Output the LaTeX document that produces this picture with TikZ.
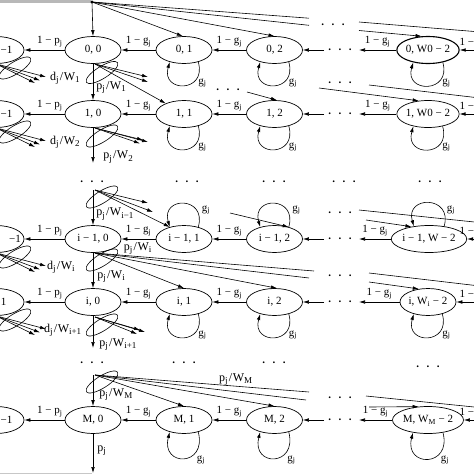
\documentclass[tikz,border=0pt]{standalone}
\usepackage{fontspec}
\setmainfont{Liberation Serif}
\usetikzlibrary{arrows.meta,shapes.geometric}
\newcommand{\mysubj}{\textsubscript{j}}
\newcommand{\mysub}[1]{\raisebox{-0.4ex}{\fontsize{9}{10}\selectfont #1}}
\newcommand{\myfrac}[2]{p\mysub{#1}\kern1.2pt/\kern0.6pt W\mysub{#2}}
\begin{document}
\begin{tikzpicture}[x=1pt,y=-1pt,
  every node/.style={font=\fontsize{11}{13}\selectfont},
  st/.style={ellipse,draw,line width=0.7pt,minimum width=56pt,minimum height=27pt,inner sep=0pt},
  arr/.style={line width=0.6pt,-{Latex[length=6pt,width=3.6pt]}},
  ln/.style={line width=0.6pt},
  lbl/.style={inner sep=0pt},
  flbl/.style={inner sep=0pt,font=\fontsize{12}{14}\selectfont},
  bundle/.style={ellipse,draw,line width=0.6pt,minimum width=37pt,minimum height=12pt,inner sep=0pt,rotate=32},
  dotsn/.style={inner sep=0pt,font=\fontsize{11}{13}\selectfont\bfseries},
]
\useasboundingbox (0,0) rectangle (474,474);
\clip (0,0) rectangle (474,474);

% ---------- states ----------
\node[st] (a0) at (93,50) {0, 0};
\node[st] (a1) at (184,50) {0, 1};
\node[st] (a2) at (274.5,50) {0, 2};
\node[st,line width=1.1pt] (aW) at (428,50) {0, W0 − 2};
\node[st] (aL) at (-4,50) {};
\node[lbl,anchor=east] (aLt) at (12.5,50) {−1};

\node[st] (b0) at (93,114) {1, 0};
\node[st] (b1) at (184,114) {1, 1};
\node[st] (b2) at (274.5,114) {1, 2};
\node[st] (bW) at (428,114) {1, W0 − 2};
\node[st] (bL) at (-4,114) {};
\node[lbl,anchor=east] (bLt) at (12.5,114) {−1};

\node[st] (c0) at (93,239) {i − 1, 0};
\node[st] (c1) at (184,239) {i − 1, 1};
\node[st] (c2) at (274.5,239) {i − 1, 2};
\node[st] (cW) at (429,239) {i − 1, W − 2};
\node[st] (cL) at (-4,239) {};
\node[lbl,anchor=east] (cLt) at (21,239) {−1};

\node[st] (d0) at (93,302) {i, 0};
\node[st] (d1) at (184,302) {i, 1};
\node[st] (d2) at (274.5,302) {i, 2};
\node[st] (dW) at (428,302) {i, W\textsubscript{i} − 2};
\node[st] (dL) at (-4,302) {};
\node[lbl,anchor=east] (dLt) at (6.5,302) {1};

\node[st] (e0) at (93,420) {M, 0};
\node[st] (e1) at (184,420) {M, 1};
\node[st] (e2) at (274.5,420) {M, 2};
\node[st] (eW) at (428,420) {M, W\textsubscript{M} − 2};
\node[st] (eL) at (-4,420) {};
\node[lbl,anchor=east] (eLt) at (12.5,420) {−1};

% ---------- horizontal transitions ----------
\foreach \p/\y in {a/50,b/114,c/239,d/302,e/420}{
  \draw[arr] (\p0.west) -- node[lbl,pos=0.37,yshift=8pt] (\p lp) {1 − p\mysubj} (\p L.east);
  \draw[arr] (\p1.west) -- node[lbl,midway,yshift=8pt] (\p lg1) {1 − g\mysubj} (\p0.east);
  \draw[arr] (\p2.west) -- node[lbl,midway,yshift=8pt] (\p lg2) {1 − g\mysubj} (\p1.east);
  \coordinate (\p ga) at (324,\y);
  \draw[arr] (\p ga) -- (\p2.east);
  \node[dotsn] (\p gd) at (340,\y) {.\hspace{7.5pt}.\hspace{7.5pt}.};
  \coordinate (\p gb) at (359,\y);
  \draw[arr] (\p W.west) -- node[lbl,midway,yshift=8pt] (\p lgW) {1 − g\mysubj} (\p gb);
  \coordinate (\p R) at (484,\y);
  \draw[arr] (\p R) -- (\p W.east);
  \node[lbl,anchor=west] (\p Rl) at (459.3,\y-8) {1 −};
}

% ---------- self loops ----------
\foreach \p in {a,b,d}{
  \foreach \c in {1,2,W}{
    \draw[arr] (\p\c.-40) .. controls +(9,31) and +(-9,31) .. (\p\c.-140);
    \node[lbl] (\p\c g) at ([shift={(18.5,33)}]\p\c.center) {g\mysubj};
  }
}
\foreach \c in {1,2,W}{
  \draw[arr] (e\c.-40) .. controls +(9,35) and +(-9,35) .. (e\c.-140);
  \node[lbl] (e\c g) at ([shift={(17,40)}]e\c.center) {g\mysubj};
}
\foreach \c in {1,2,W}{
  \draw[arr] (c\c.40) .. controls +(9,-31) and +(-9,-31) .. (c\c.140);
  \node[lbl] (c\c g) at ([shift={(22,-29)}]c\c.center) {g\mysubj};
}

% ---------- row 0 entry (top) ----------
\fill[black!28] (0,-2) rectangle (91,2.6);
\coordinate (s0) at (92,2);
\fill (s0) circle (1.6);
\draw[arr] (s0) -- (a0.north);
\draw[arr] (s0) -- (a1.95);
\draw[arr] (s0) -- (a2.north);
\coordinate (a0A) at (309,18.2);
\coordinate (a0B) at (309,25.3);
\draw[ln] (s0) -- (a0A);
\draw[ln] (s0) -- (a0B);
\node[dotsn] (a0d) at (333,25) {.\hspace{7.5pt}.\hspace{7.5pt}.};
\coordinate (a0Ar) at (359,22);
\coordinate (a0Ae) at (484,32.3);
\draw[ln] (a0Ar) -- (a0Ae);
\coordinate (a0Br) at (359,30.5);
\draw[arr] (a0Br) -- (aW.115);

% ---------- row 0 -> row 1 ----------
\node[bundle] (ua) at (102,72.5) {};
\draw[arr] (a0.south) -- node[flbl,anchor=west,pos=0.66,xshift=3pt] (lpa) {\myfrac{j}{1}} (b0.north);
\coordinate (s1) at (95,64);
\coordinate (t1a) at (148,77);
\coordinate (t1b) at (148,82);
\draw[arr] (s1) -- (t1a);
\draw[arr] (s1) -- (t1b);
\draw[arr] (s1) -- (b1.150);
\node[dotsn] (b0d) at (228,90) {.\hspace{7.5pt}.\hspace{7.5pt}.};
\coordinate (b0Cs) at (247,92);
\draw[arr] (b0Cs) -- (b2.80);
\node[dotsn] (b0d2) at (340,83) {.\hspace{7.5pt}.\hspace{7.5pt}.};
\coordinate (b0Bs) at (319,88);
\draw[arr] (b0Bs) -- (bW.125);
\coordinate (b0As) at (369,85);
\coordinate (b0Ae) at (484,98.5);
\draw[ln] (b0As) -- (b0Ae);

% ---------- row 1 -> next ----------
\node[bundle] (ub) at (102,136) {};
\coordinate (v2) at (93,163);
\draw[arr] (b0.south) -- node[flbl,anchor=west,pos=0.83,xshift=10pt] (lpb) {\myfrac{j}{2}} (v2);
\coordinate (s2) at (95,128);
\coordinate (t2a) at (143,140);
\coordinate (t2b) at (148,142);
\coordinate (t2c) at (140,143.5);
\draw[arr] (s2) -- (t2a);
\draw[arr] (s2) -- (t2b);
\draw[arr] (s2) -- (t2c);

% ---------- dots between rows ----------
\node[dotsn] (m1) at (92,182) {.\hspace{7.5pt}.\hspace{7.5pt}.};
\node[dotsn] (m2) at (187,182) {.\hspace{7.5pt}.\hspace{7.5pt}.};
\node[dotsn] (m3) at (274,182) {.\hspace{7.5pt}.\hspace{7.5pt}.};
\node[dotsn] (m4) at (344,182) {.\hspace{7.5pt}.\hspace{7.5pt}.};
\node[dotsn] (m5) at (430,182) {.\hspace{7.5pt}.\hspace{7.5pt}.};
\node[dotsn] (k1) at (92,363) {.\hspace{7.5pt}.\hspace{7.5pt}.};
\node[dotsn] (k2) at (184,363) {.\hspace{7.5pt}.\hspace{7.5pt}.};
\node[dotsn] (k3) at (274,363) {.\hspace{7.5pt}.\hspace{7.5pt}.};
\node[dotsn] (k4) at (428,367) {.\hspace{7.5pt}.\hspace{7.5pt}.};

% ---------- row i-1 entry ----------
\coordinate (sc) at (93,190);
\node[bundle] (uc) at (102,197) {};
\draw[arr] (sc) -- node[flbl,anchor=west,pos=0.68,xshift=3pt] (lpc) {\myfrac{j}{i−1}} (c0.north);
\coordinate (scf) at (95,190);
\coordinate (tca) at (148,203);
\coordinate (tcb) at (153,212);
\draw[arr] (scf) -- (tca);
\draw[arr] (scf) -- (tcb);
\draw[arr] (scf) -- (c1.140);
\coordinate (cCs) at (230,213);
\draw[arr] (cCs) -- (c2.40);
\node[dotsn] (cdt) at (340,213) {.\hspace{7.5pt}.\hspace{7.5pt}.};
\coordinate (cAs) at (359,210);
\coordinate (cAe) at (484,223);
\draw[ln] (cAs) -- (cAe);
\coordinate (cBs) at (366,220);
\draw[arr] (cBs) -- (cW.145);

% ---------- row i-1 -> row i ----------
\node[bundle] (ud) at (102,260) {};
\draw[arr] (c0.south) -- node[flbl,anchor=west,pos=0.68,xshift=4pt] (lpd) {\myfrac{j}{i}} (d0.north);
\coordinate (sd) at (95,253);
\coordinate (dA) at (314,271);
\coordinate (dB) at (309,278);
\draw[ln] (sd) -- node[flbl,pos=0.195,yshift=8pt] (lpd2) {\myfrac{j}{i}} (dA);
\draw[ln] (sd) -- (dB);
\draw[arr] (sd) -- (d2.80);
\draw[arr] (sd) -- (d1.north);
\node[dotsn] (ddt) at (340,276) {.\hspace{7.5pt}.\hspace{7.5pt}.};
\coordinate (dAs) at (369,273);
\coordinate (dAe) at (484,286.5);
\draw[ln] (dAs) -- (dAe);
\coordinate (dBs) at (369,282);
\draw[arr] (dBs) -- (dW.125);

% ---------- row i -> next ----------
\node[bundle] (ue) at (102,325) {};
\coordinate (v3) at (93,348);
\draw[arr] (d0.south) -- node[flbl,anchor=west,pos=0.9,xshift=6pt] (lpe) {\myfrac{j}{i+1}} (v3);
\coordinate (s3) at (95,317);
\coordinate (t3a) at (140,330);
\coordinate (t3b) at (145,332);
\coordinate (t3c) at (137,334);
\draw[arr] (s3) -- (t3a);
\draw[arr] (s3) -- (t3b);
\draw[arr] (s3) -- (t3c);

% ---------- row M entry ----------
\coordinate (sM) at (93,375);
\node[bundle] (uM) at (102,382) {};
\draw[arr] (sM) -- node[flbl,anchor=west,pos=0.63,xshift=6pt] (lpM) {\myfrac{j}{M}} (e0.north);
\coordinate (sMf) at (95,375);
\coordinate (eA) at (309,392);
\coordinate (eB) at (306,400);
\draw[ln] (sMf) -- node[flbl,pos=0.657,yshift=7pt] (lpM2) {\myfrac{j}{M}} (eA);
\draw[ln] (sMf) -- (eB);
\draw[arr] (sMf) -- (e2.north);
\draw[arr] (sMf) -- (e1.north);
\node[dotsn] (edt) at (340,398) {.\hspace{7.5pt}.\hspace{7.5pt}.};
\coordinate (eAs) at (366,396);
\coordinate (eAe) at (484,408);
\draw[ln] (eAs) -- (eAe);
\coordinate (eBs) at (369,407);
\draw[arr] (eBs) -- (eW.125);

% ---------- bottom exit ----------
\fill[black!22] (0,472.6) rectangle (92,477);
\coordinate (vb) at (93,473);
\draw[arr] (e0.south) -- node[flbl,anchor=west,pos=0.42,xshift=4pt] (lpj) {p\mysub{j}} (vb);

% ---------- left column fans ----------
\foreach \p/\y/\lab/\lx in {a/50/1/50,b/114/2/50,c/239/i/47,d/302/i+1/44}{
  \node[bundle] (l\p) at (15,\y+18) {};
  \coordinate (l\p a) at (46,\y+27);
  \coordinate (l\p b) at (40,\y+30.5);
  \coordinate (l\p c) at (35,\y+33);
  \draw[arr] (\p L.south) -- (l\p a);
  \draw[arr] (\p L.south) -- (l\p b);
  \draw[arr] (\p L.south) -- (l\p c);
  \node[flbl,anchor=west] (l\p t) at (\lx,\y+28.5) {d\mysub{j}\kern1.2pt/\kern0.6pt W\mysub{\lab}};
}
\end{tikzpicture}
\end{document}
